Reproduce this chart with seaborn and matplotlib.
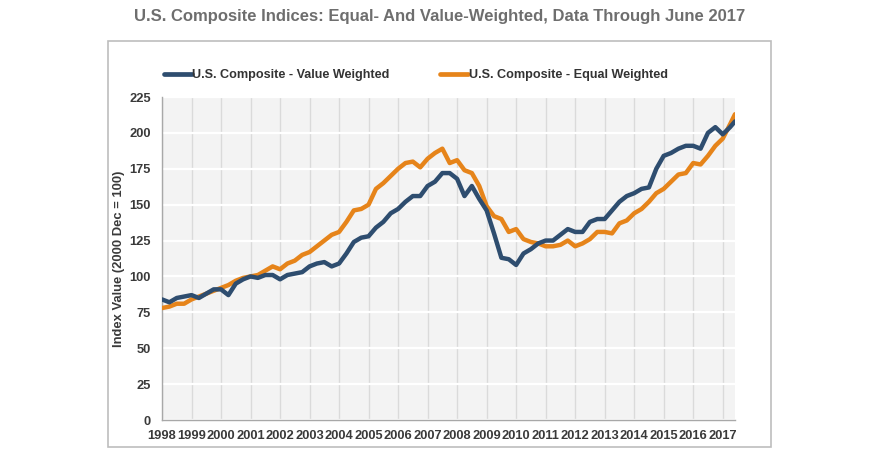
import numpy as np
import pandas as pd
import matplotlib
matplotlib.use("Agg")
import matplotlib.pyplot as plt
import seaborn as sns
from matplotlib.patches import Rectangle
from matplotlib.lines import Line2D

# ---- data (quarterly readings, Jan/Apr/Jul/Oct, last point June 2017) ----
dates = pd.date_range("1998-01-01", "2017-04-01", freq="QS").append(pd.DatetimeIndex(["2017-06-01"]))

value_weighted = [
    84, 82, 85, 86,
    87, 85, 88, 91,
    91, 87, 95, 98,
    100, 99, 101, 101,
    98, 101, 102, 103,
    107, 109, 110, 107,
    109, 116, 124, 127,
    128, 134, 138, 144,
    147, 152, 156, 156,
    163, 166, 172, 172,
    168, 156, 163, 154,
    146, 130, 113, 112,
    108, 116, 119, 123,
    125, 125, 129, 133,
    131, 131, 138, 140,
    140, 146, 152, 156,
    158, 161, 162, 175,
    184, 186, 189, 191,
    191, 189, 200, 204,
    199, 204, 208,
]
equal_weighted = [
    78, 79, 81, 81,
    84, 86, 88, 90,
    92, 94, 97, 99,
    100, 101, 104, 107,
    105, 109, 111, 115,
    117, 121, 125, 129,
    131, 138, 146, 147,
    150, 161, 165, 170,
    175, 179, 180, 176,
    182, 186, 189, 179,
    181, 174, 172, 163,
    149, 142, 140, 131,
    133, 126, 124, 123,
    121, 121, 122, 125,
    121, 123, 126, 131,
    131, 130, 137, 139,
    144, 147, 152, 158,
    161, 166, 171, 172,
    179, 178, 184, 191,
    196, 206, 213,
]
series_names = ["U.S. Composite - Value Weighted", "U.S. Composite - Equal Weighted"]
year_ticks = list(range(1998, 2018))
y_ticks = [0, 25, 50, 75, 100, 125, 150, 175, 200, 225]

title = "U.S. Composite Indices: Equal- And Value-Weighted, Data Through June 2017"
ylabel = "Index Value (2000 Dec = 100)"

# ---- build long table ----
t = dates.year + (dates.month - 1) / 12.0
df = pd.concat([
    pd.DataFrame({"t": t, "value": value_weighted, "series": series_names[0]}),
    pd.DataFrame({"t": t, "value": equal_weighted, "series": series_names[1]}),
])

BLUE = "#2E4D6F"
ORANGE = "#E6841A"
palette = {series_names[0]: BLUE, series_names[1]: ORANGE}

sns.set_style("white")
plt.rcParams["font.family"] = ["Liberation Sans", "DejaVu Sans"]

W, H = 879, 461
fig = plt.figure(figsize=(W / 100, H / 100), dpi=100)
fig.patch.set_facecolor("white")

# outer frame
fig.patches.append(Rectangle((108 / W, 1 - 447 / H), (771 - 108) / W, (447 - 41) / H,
                             transform=fig.transFigure, fill=False,
                             edgecolor="#BDBDBD", linewidth=1.2, zorder=0))

ax = fig.add_axes([162 / W, 1 - 420 / H, (735 - 162) / W, (420 - 97) / H])
ax.set_facecolor("#F3F3F3")

sns.lineplot(data=df, x="t", y="value", hue="series", palette=palette,
             hue_order=[series_names[1], series_names[0]],
             linewidth=3.2, legend=False, ax=ax, zorder=3)

TXT = "#3A3A3A"
FS = 9.3
ax.set_xlim(1998, 2017 + 5 / 12)
ax.set_ylim(0, 225)
ax.set_xticks(year_ticks)
ax.set_xticklabels([str(y) for y in year_ticks], fontsize=FS, fontweight="bold", color=TXT)
ax.set_yticks(y_ticks)
ax.set_yticklabels([str(v) for v in y_ticks], fontsize=FS, fontweight="bold", color=TXT)

ax.grid(axis="y", color="white", linewidth=1.6, zorder=1)
ax.grid(axis="x", color="#DADADA", linewidth=1.0, zorder=1)
ax.set_axisbelow(True)

for s in ["top", "right"]:
    ax.spines[s].set_visible(False)
for s in ["left", "bottom"]:
    ax.spines[s].set_color("#A8A8A8")
    ax.spines[s].set_linewidth(1.0)
ax.tick_params(axis="both", which="major", length=3, width=1, color="#A8A8A8")
ax.tick_params(axis="x", pad=4)
ax.tick_params(axis="y", pad=5)

ax.set_xlabel("")
ax.set_ylabel(ylabel, fontsize=9.4, fontweight="bold", color=TXT, labelpad=3)

fig.text(0.5, 1 - 17 / H, title, ha="center", va="center",
         fontsize=12, fontweight="bold", color="#6E6E6E")

handles = [Line2D([0], [0], color=BLUE, linewidth=3.4),
           Line2D([0], [0], color=ORANGE, linewidth=3.4)]
leg = fig.legend(handles, series_names, loc="center left",
                 bbox_to_anchor=(164 / W, 1 - 75 / H), ncol=2, frameon=False,
                 handlelength=2.2, handletextpad=0.05, columnspacing=4.0,
                 prop={"family": "Liberation Sans", "weight": "bold", "size": 9.1},
                 borderaxespad=0, borderpad=0)
for txt in leg.get_texts():
    txt.set_color("#333333")

fig.savefig("out.png", dpi=100, facecolor="white")
